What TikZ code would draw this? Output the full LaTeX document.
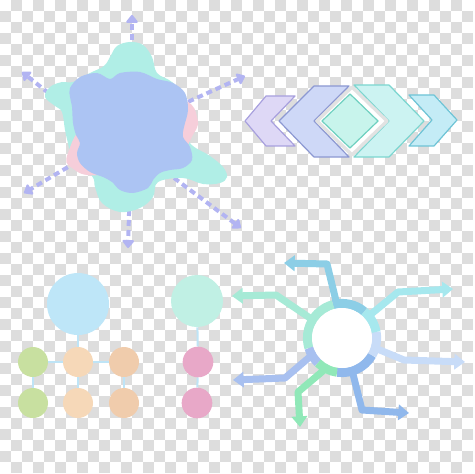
\documentclass[tikz,border=0pt]{standalone}
\usetikzlibrary{arrows.meta}
\definecolor{chk}{RGB}{221,221,221}
\definecolor{tealb}{RGB}{176,238,230}
\definecolor{blueb}{RGB}{172,196,243}
\definecolor{pinkb}{RGB}{246,206,218}
\definecolor{rayc}{RGB}{178,180,242}
\definecolor{cvAf}{RGB}{222,216,246}\definecolor{cvAd}{RGB}{168,160,222}
\definecolor{cvBf}{RGB}{206,216,247}\definecolor{cvBd}{RGB}{140,152,210}
\definecolor{dmf}{RGB}{200,244,236}\definecolor{dmd}{RGB}{110,208,192}
\definecolor{cvCf}{RGB}{204,243,242}\definecolor{cvCd}{RGB}{124,214,208}
\definecolor{cvDf}{RGB}{196,236,246}\definecolor{cvDd}{RGB}{110,196,214}
\definecolor{frm}{RGB}{226,226,226}
\definecolor{lnk}{RGB}{190,228,246}
\definecolor{bigb}{RGB}{190,230,248}
\definecolor{grn}{RGB}{200,224,160}
\definecolor{orA}{RGB}{246,216,184}
\definecolor{orB}{RGB}{240,204,172}
\definecolor{mnt}{RGB}{192,240,228}
\definecolor{pnk}{RGB}{232,168,200}
\definecolor{aA}{RGB}{140,206,230}
\definecolor{aB}{RGB}{166,234,214}
\definecolor{aC}{RGB}{166,232,238}
\definecolor{aD}{RGB}{200,220,248}
\definecolor{aE}{RGB}{144,184,236}
\definecolor{aF}{RGB}{144,232,184}
\definecolor{aG}{RGB}{168,192,240}
\begin{document}
\begin{tikzpicture}[x=0.75pt,y=-0.75pt,
  ray/.style={draw=rayc, line width=3pt, dash pattern=on 4.5pt off 3pt, -{Triangle[width=10pt,length=6.5pt,round]}},
  chev/.style={line width=0.9pt, line join=round},
  dot/.style={circle, inner sep=0pt, minimum size=22.5pt},
  link/.style={draw=lnk, line width=1.5pt},
  arr/.style={line width=5.25pt, line join=round, -{Triangle[width=11.5pt,length=8pt]}},
  seg/.style={line width=6.9pt}]
\useasboundingbox (0,0) rectangle (474,474);
\fill[white] (0,0) rectangle (474,474);
\foreach \i in {0,...,42}{
  \foreach \j in {0,...,42}{
    \pgfmathtruncatemacro{\kk}{mod(\i+\j,2)}
    \ifnum\kk=1 \fill[chk] ({\i*11},{\j*11}) rectangle ({min(\i*11+11,474)},{min(\j*11+11,474)});\fi
  }
}

% ---------- blob with dashed rays ----------
\coordinate (su) at (132,70);  \coordinate (tu) at (132,15);
\coordinate (sul) at (80,118); \coordinate (tul) at (22,72);
\coordinate (sur) at (170,110);\coordinate (tur) at (245,76);
\coordinate (sll) at (85,157); \coordinate (tll) at (24,193);
\coordinate (slr) at (150,160);\coordinate (tlr) at (241,228);
\coordinate (sd) at (130,180); \coordinate (td) at (128,248);
\draw[ray] (su) -- (tu);
\draw[ray] (sul) -- (tul);
\draw[ray] (sur) -- (tur);
\draw[ray] (sll) -- (tll);
\draw[ray] (slr) -- (tlr);
\draw[ray] (sd) -- (td);

\fill[tealb] plot[smooth cycle, tension=0.6] coordinates {(110,57) (117,46) (130,42) (143,45) (152,57) (157,73) (172,82) (186,98) (190,125) (190,143) (210,156) (223,167) (227,177) (220,183) (203,184) (183,178) (158,182) (153,197) (140,208) (120,212) (102,203) (95,187) (92,176) (73,160) (68,143) (65,130) (62,112) (55,106) (45,97) (50,87) (62,82) (73,82) (90,73) (104,66)};
\fill[pinkb] plot[smooth cycle, tension=0.7] coordinates {(150,94) (186,101) (197,117) (194,133) (170,160) (100,175) (72,168) (68,153) (90,120)};
\fill[blueb] plot[smooth cycle, tension=0.55] coordinates {(70,88) (80,77) (97,73) (110,79) (120,73) (140,72) (157,79) (173,83) (185,93) (188,110) (184,127) (183,137) (190,147) (192,160) (183,168) (170,170) (160,173) (153,180) (148,188) (133,193) (120,190) (112,182) (103,177) (90,172) (80,163) (77,153) (80,143) (76,135) (73,123) (72,107) (70,97)};

% ---------- chevrons ----------
\draw[chev, fill=cvAf, draw=cvAd] (245,121) -- (266,96) -- (295,96) -- (271,121) -- (295,146) -- (266,146) -- cycle;
\draw[chev, fill=cvBf, draw=cvBd] (279,121) -- (314,86) -- (349,86) -- (314,121) -- (349,157) -- (314,157) -- cycle;
\draw[chev, fill=cvCf, draw=cvCd] (354,85) -- (389,85) -- (424,121) -- (389,157) -- (354,157) -- (389,121) -- cycle;
\draw[chev, fill=cvDf, draw=cvDd] (409,95) -- (434,95) -- (457,120) -- (434,146) -- (409,146) -- (432,120) -- cycle;
\draw[line width=2.5pt, draw=frm, fill=white, line join=round] (352,87) -- (387,121) -- (352,155) -- (317,121) -- cycle;
\draw[chev, fill=dmf, draw=dmd] (350,94) -- (378,121) -- (350,148) -- (322,121) -- cycle;

% ---------- circle trees ----------
\node[dot, minimum size=46.5pt, fill=bigb] (big) at (78,304) {};
\node[dot, fill=grn] (g1) at (33,362) {};
\node[dot, fill=orA] (o1) at (78,362) {};
\node[dot, fill=orB] (r1) at (124,362) {};
\node[dot, fill=grn] (g2) at (33,403) {};
\node[dot, fill=orA] (o2) at (78,403) {};
\node[dot, fill=orB] (r2) at (124,403) {};
\node[dot, minimum size=39pt, fill=mnt] (mt) at (197,301) {};
\node[dot, minimum size=23pt, fill=pnk] (p1) at (198,362) {};
\node[dot, minimum size=23pt, fill=pnk] (p2) at (197,403) {};
\draw[link] (big) -- (o1);
\draw[link] (g1) -- (o1);
\draw[link] (o1) -- (r1);
\draw[link] (g1) -- (g2);
\draw[link] (o1) -- (o2);
\draw[link] (r1) -- (r2);
\draw[link] (mt) -- (p1);
\draw[link] (p1) -- (p2);

% ---------- ring with arrows ----------
\coordinate (rc) at (342,338);
\coordinate (a1s) at (337,305); \coordinate (a1b) at (327,264); \coordinate (a1t) at (284,263);
\coordinate (a2s) at (310,318); \coordinate (a2b) at (276,295); \coordinate (a2t) at (232,296);
\coordinate (a3s) at (370,315); \coordinate (a3b) at (398,292); \coordinate (a3t) at (453,289);
\coordinate (a4s) at (375,348); \coordinate (a4b) at (404,360); \coordinate (a4t) at (465,362);
\coordinate (a5s) at (352,370); \coordinate (a5b) at (362,410); \coordinate (a5t) at (409,413);
\coordinate (a6s) at (330,365); \coordinate (a6b) at (298,392); \coordinate (a6t) at (300,427);
\coordinate (a7s) at (312,355); \coordinate (a7b) at (285,378); \coordinate (a7t) at (233,380);
\draw[arr, aA] (a1s) -- (a1b) -- (a1t);
\draw[arr, aB] (a2s) -- (a2b) -- (a2t);
\draw[arr, aC] (a3s) -- (a3b) -- (a3t);
\draw[arr, aD] (a4s) -- (a4b) -- (a4t);
\draw[arr, aE] (a5s) -- (a5b) -- (a5t);
\draw[arr, aF] (a6s) -- (a6b) -- (a6t);
\draw[arr, aG] (a7s) -- (a7b) -- (a7t);
\foreach \p/\q/\c in {50/105/aA, 105/197/aB, 197/226/aG, 226/262/aF, 262/330/aE, 330/370/aD, 10/50/aC}{
  \draw[seg, \c] (rc) ++(-\p:34.5) arc[start angle=-\p, end angle=-\q, radius=34.5];
}
\node[circle, fill=white, inner sep=0pt, minimum size=45pt] (hub) at (rc) {};
\end{tikzpicture}
\end{document}
